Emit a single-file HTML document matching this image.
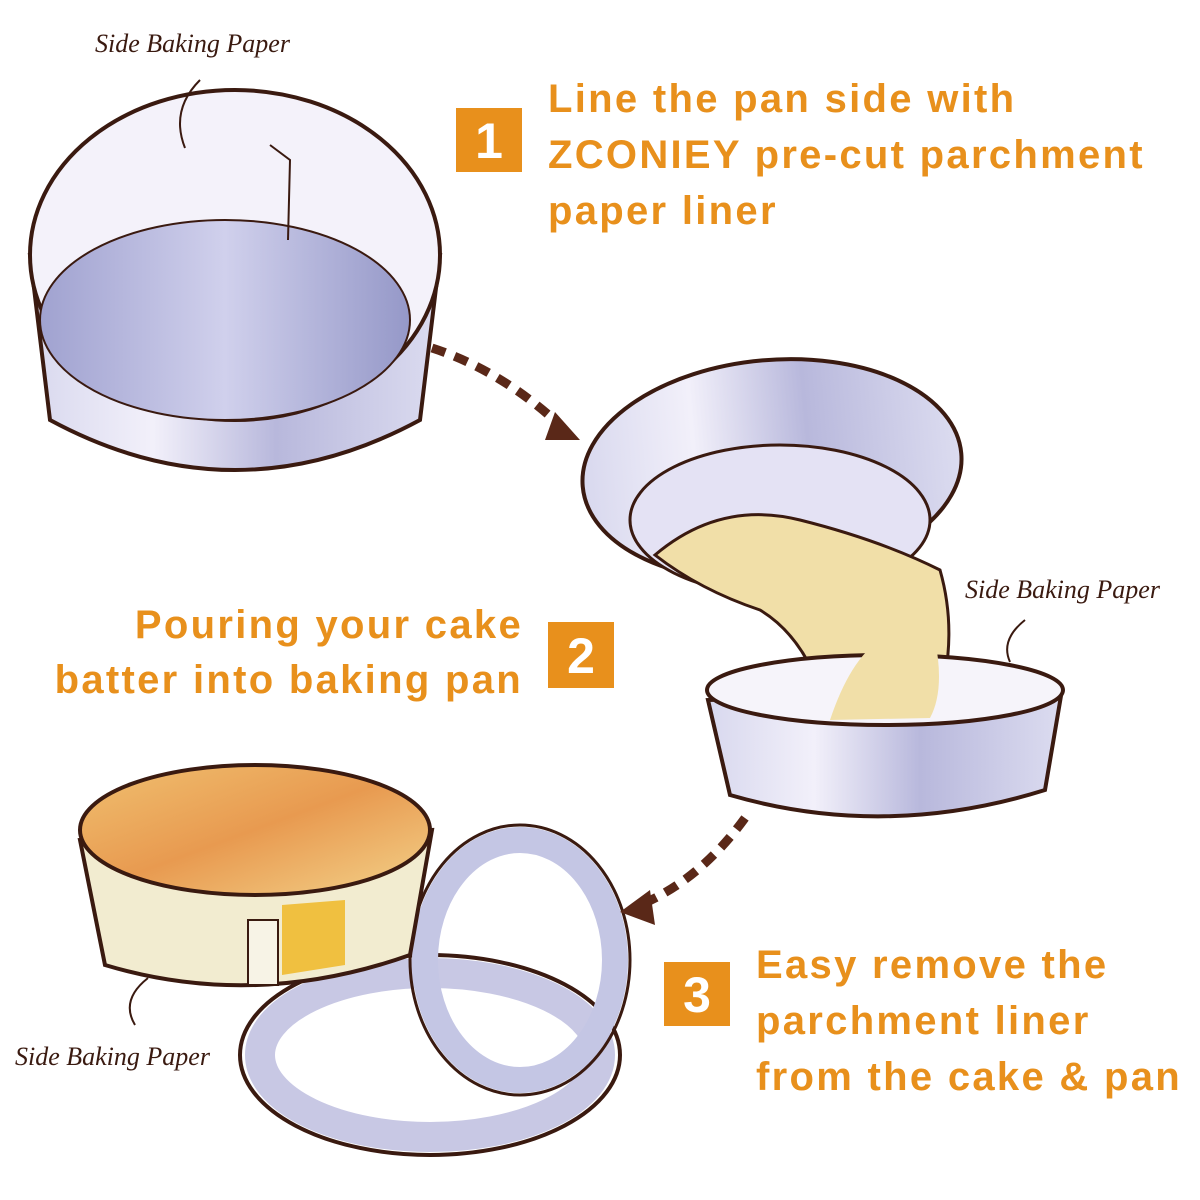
<!DOCTYPE html>
<html><head><meta charset="utf-8"><style>
html,body{margin:0;padding:0;background:#fff;}
svg{display:block}
.t{font-family:"Liberation Sans",sans-serif;font-weight:bold;fill:#e8901c;font-size:40px;letter-spacing:2.3px}
.h{font-family:"Liberation Serif",serif;font-style:italic;fill:#3a1a10;font-size:26px}
.n{font-family:"Liberation Sans",sans-serif;font-weight:bold;fill:#fff;font-size:50px}
</style></head><body>
<svg width="1200" height="1200" viewBox="0 0 1200 1200">
<defs>
<linearGradient id="g1" x1="0" x2="1"><stop offset="0" stop-color="#d8d8ee"/><stop offset=".3" stop-color="#f2f0fa"/><stop offset=".6" stop-color="#b8b8dc"/><stop offset="1" stop-color="#dcdcf0"/></linearGradient>
<linearGradient id="g2" x1="0" x2="1"><stop offset="0" stop-color="#a0a2d0"/><stop offset=".5" stop-color="#d0d0ec"/><stop offset="1" stop-color="#9598c8"/></linearGradient>
<linearGradient id="cake" x1="0" x2="1" y1="0" y2="1"><stop offset="0" stop-color="#f0c070"/><stop offset=".5" stop-color="#e89a50"/><stop offset="1" stop-color="#f3d28a"/></linearGradient>
</defs>
<g stroke="#3a1a10" stroke-width="4">
<!-- Pan 1 -->
<path d="M30 255 L50 420 Q235 520 420 420 L440 255 Z" fill="url(#g1)"/>
<ellipse cx="235" cy="255" rx="205" ry="165" fill="#f4f2fa"/>
<ellipse cx="225" cy="320" rx="185" ry="100" fill="url(#g2)" stroke-width="2"/>
<path d="M270 145 L290 160 L288 240" fill="none" stroke-width="2"/>
<!-- Pan 2 tilted -->
<ellipse cx="772" cy="470" rx="190" ry="110" fill="url(#g1)" transform="rotate(-5 772 470)"/>
<ellipse cx="780" cy="520" rx="150" ry="75" fill="#e4e2f4" stroke-width="3"/>
<path d="M655 555 Q720 500 800 520 Q880 540 940 570 Q960 640 935 715 L830 720 Q810 640 760 610 Q700 590 655 555Z" fill="#f1dfa8" stroke-width="3"/>
<!-- lower pan -->
<path d="M708 700 L730 795 Q885 840 1045 790 L1062 690 Z" fill="url(#g1)"/>
<ellipse cx="885" cy="690" rx="178" ry="35" fill="#f6f4fa"/>
<path d="M830 720 Q850 660 880 640 L935 640 Q945 690 930 718Z" fill="#f1dfa8" stroke="none"/>
<!-- rings -->
<ellipse cx="430" cy="1055" rx="190" ry="100" fill="none" stroke-width="4"/>
<ellipse cx="430" cy="1055" rx="170" ry="82" fill="none" stroke="#c8c8e4" stroke-width="30"/>
<ellipse cx="520" cy="960" rx="95" ry="120" fill="none" stroke="#c4c6e4" stroke-width="26"/>
<ellipse cx="520" cy="960" rx="110" ry="135" fill="none" stroke-width="3"/>
<!-- cake -->
<path d="M80 840 L105 965 Q255 1010 410 955 L432 830Z" fill="#f2ecd0"/>
<ellipse cx="255" cy="830" rx="175" ry="65" fill="url(#cake)"/>
<rect x="248" y="920" width="30" height="65" fill="#f7f3e6" stroke-width="2"/>
<path d="M282 905 L345 900 L345 965 L282 975Z" fill="#f0c040" stroke="none"/>
</g>
<!-- arrows -->
<path d="M432 348 Q500 370 560 425" fill="none" stroke="#5a2818" stroke-width="9" stroke-dasharray="14 10"/>
<path d="M555 412 L580 440 L545 440Z" fill="#5a2818"/>
<path d="M745 818 Q700 880 640 905" fill="none" stroke="#5a2818" stroke-width="9" stroke-dasharray="14 10"/>
<path d="M650 890 L620 912 L655 925Z" fill="#5a2818"/>
<!-- handwritten labels -->
<text class="h" x="95" y="52">Side Baking Paper</text>
<text class="h" x="965" y="598">Side Baking Paper</text>
<text class="h" x="15" y="1065">Side Baking Paper</text>
<path d="M185 148 Q170 110 200 80" fill="none" stroke="#3a1a10" stroke-width="2"/>
<path d="M1010 662 Q1000 640 1025 620" fill="none" stroke="#3a1a10" stroke-width="2"/>
<path d="M135 1025 Q120 1000 148 978" fill="none" stroke="#3a1a10" stroke-width="2"/>
<!-- steps -->
<rect x="456" y="108" width="66" height="64" fill="#e8901c"/>
<text class="n" x="489" y="158" text-anchor="middle">1</text>
<text class="t" x="548" y="112">Line the pan side with</text>
<text class="t" x="548" y="168">ZCONIEY pre-cut parchment</text>
<text class="t" x="548" y="224">paper liner</text>
<text class="t" x="523" y="638" text-anchor="end">Pouring your cake</text>
<text class="t" x="523" y="693" text-anchor="end">batter into baking pan</text>
<rect x="548" y="622" width="66" height="66" fill="#e8901c"/>
<text class="n" x="581" y="673" text-anchor="middle">2</text>
<rect x="664" y="962" width="66" height="64" fill="#e8901c"/>
<text class="n" x="697" y="1012" text-anchor="middle">3</text>
<text class="t" x="756" y="978">Easy remove the</text>
<text class="t" x="756" y="1034">parchment liner</text>
<text class="t" x="756" y="1090">from the cake &amp; pan</text>
</svg>
</body></html>
